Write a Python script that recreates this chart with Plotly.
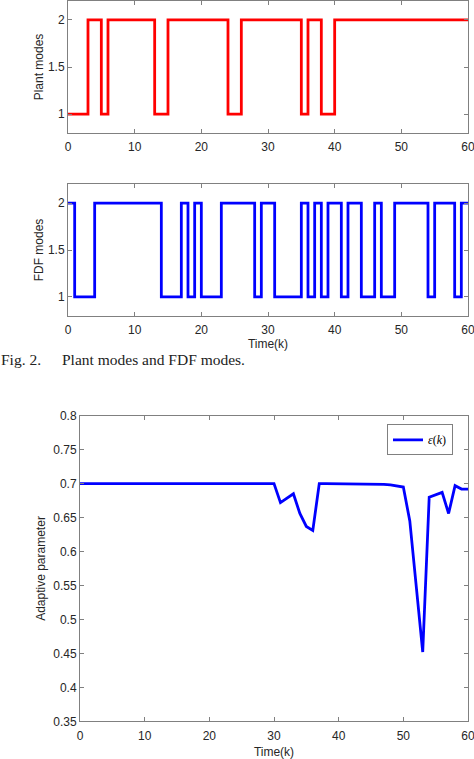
import plotly.graph_objects as go

# time steps
k = list(range(61))

# mode value held on [k, k+1)
plant_modes = [1, 1, 1, 2, 2, 1, 2, 2, 2, 2,
               2, 2, 2, 1, 1, 2, 2, 2, 2, 2,
               2, 2, 2, 2, 1, 1, 2, 2, 2, 2,
               2, 2, 2, 2, 2, 1, 2, 2, 1, 1,
               2, 2, 2, 2, 2, 2, 2, 2, 2, 2,
               2, 2, 2, 2, 2, 2, 2, 2, 2, 2,
               2]
fdf_modes = [2, 1, 1, 1, 2, 2, 2, 2, 2, 2,
             2, 2, 2, 2, 1, 1, 1, 2, 1, 2,
             1, 1, 1, 2, 2, 2, 2, 2, 1, 2,
             2, 1, 1, 1, 1, 2, 1, 2, 1, 2,
             2, 1, 2, 2, 1, 1, 2, 1, 1, 2,
             2, 2, 2, 2, 1, 2, 2, 2, 1, 2,
             2]
eps = [0.700, 0.700, 0.700, 0.700, 0.700, 0.700, 0.700, 0.700, 0.700, 0.700,
       0.700, 0.700, 0.700, 0.700, 0.700, 0.700, 0.700, 0.700, 0.700, 0.700,
       0.700, 0.700, 0.700, 0.6995, 0.6995, 0.700, 0.700, 0.700, 0.700, 0.700,
       0.700, 0.672, 0.679, 0.685, 0.656, 0.637, 0.631, 0.700, 0.700, 0.700,
       0.700, 0.700, 0.700, 0.700, 0.700, 0.700, 0.6995, 0.699, 0.698, 0.697,
       0.695, 0.645, 0.550, 0.452, 0.680, 0.684, 0.687, 0.656, 0.697, 0.692,
       0.692]

x_ticks = [0, 10, 20, 30, 40, 50, 60]
mode_ticks = [1, 1.5, 2]
eps_ticks = [0.35, 0.4, 0.45, 0.5, 0.55, 0.6, 0.65, 0.7, 0.75, 0.8]

W, H = 474, 759
axcol = "#808080"
sans = "Liberation Sans"
serif = "Liberation Serif"

fig = go.Figure()
fig.add_trace(go.Scatter(x=k, y=plant_modes, mode="lines", line_shape="hv",
                         line=dict(color="#ff0000", width=2.8),
                         xaxis="x", yaxis="y", showlegend=False))
fig.add_trace(go.Scatter(x=k, y=fdf_modes, mode="lines", line_shape="hv",
                         line=dict(color="#0000ff", width=2.8),
                         xaxis="x2", yaxis="y2", showlegend=False))
fig.add_trace(go.Scatter(x=k, y=eps, mode="lines", name="<i>ε</i>(<i>k</i>)",
                         line=dict(color="#0000ff", width=2.8),
                         xaxis="x3", yaxis="y3", showlegend=True))


def xax(dom, anchor, title=None, standoff=5):
    d = dict(domain=dom, anchor=anchor, range=[0, 60], tickvals=x_ticks,
             ticks="inside", ticklen=4, tickcolor=axcol, showline=True,
             linecolor=axcol, linewidth=1, mirror="allticks", showgrid=False,
             zeroline=False, tickfont=dict(family=sans, size=12, color="#262626"),
             ticklabelstandoff=3,
             ticklabeloverflow="allow", automargin=False)
    if title:
        d["title"] = dict(text=title, standoff=standoff,
                          font=dict(family=sans, size=12, color="#262626"))
    return d


def yax(dom, anchor, rng, vals, title, standoff):
    return dict(domain=dom, anchor=anchor, range=rng, tickvals=vals,
                ticks="inside", ticklen=4, tickcolor=axcol, showline=True,
                linecolor=axcol, linewidth=1, mirror="allticks", showgrid=False,
                zeroline=False, tickfont=dict(family=sans, size=12, color="#262626"),
                automargin=False,
                title=dict(text=title, standoff=standoff,
                           font=dict(family=sans, size=12, color="#262626")))


fig.update_layout(
    width=W, height=H,
    margin=dict(l=0, r=0, t=0, b=0),
    template="none",
    paper_bgcolor="white", plot_bgcolor="white",
    xaxis=xax([68 / W, 468 / W], "y"),
    yaxis=yax([1 - 133 / H, 1 - 1 / H], "x", [0.8, 2.2], mode_ticks,
              "Plant modes", 1),
    xaxis2=xax([68 / W, 468 / W], "y2", "Time(k)", 3),
    yaxis2=yax([1 - 315.7 / H, 1 - 184.3 / H], "x2", [0.8, 2.2], mode_ticks,
               "FDF modes", 1),
    xaxis3=xax([80 / W, 468 / W], "y3", "Time(k)", 5),
    yaxis3=yax([1 - 721.3 / H, 1 - 415.7 / H], "x3", [0.35, 0.8], eps_ticks,
               "Adaptive parameter", 5),
    legend=dict(x=453 / W, y=1 - 424.3 / H, xanchor="right", yanchor="top",
                bgcolor="white", bordercolor=axcol, borderwidth=1,
                font=dict(family=serif, size=12, color="black"),
                itemwidth=30, tracegroupgap=0),
    annotations=[
        dict(text="Fig. 2.", x=-1 / W, y=1 - 360 / H, xref="paper", yref="paper",
             xanchor="left", yanchor="middle", showarrow=False,
             font=dict(family=serif, size=15.5, color="#222")),
        dict(text="Plant modes and FDF modes.", x=60 / W, y=1 - 360 / H,
             xref="paper", yref="paper", xanchor="left", yanchor="middle",
             showarrow=False, font=dict(family=serif, size=15.5, color="#222")),
    ],
)

# drop the default page margin so the figure sits at the window corner
fig.write_html("out.html", config={"displayModeBar": False},
               post_script="document.body.style.margin='0';document.body.style.overflow='hidden';")
